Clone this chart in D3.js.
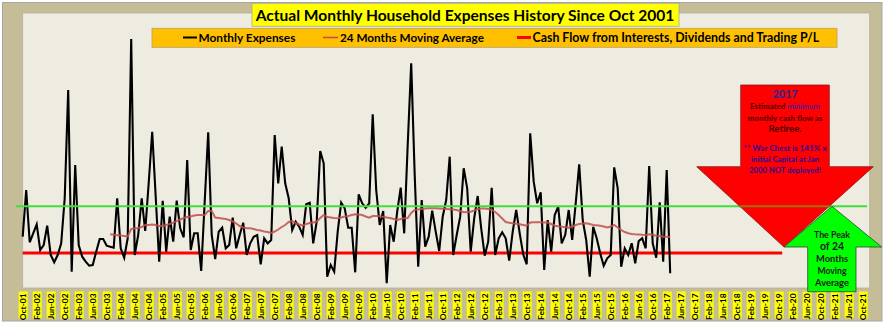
<!DOCTYPE html>
<html><head><meta charset="utf-8">
<script src="https://cdn.jsdelivr.net/npm/d3@7"></script>
<style>html,body{margin:0;padding:0;background:#fff;}svg{display:block;}</style>
</head><body><svg id="c" width="885" height="326"></svg>
<script>
// ---------- DATA ----------
const firstMonth = new Date(2001, 9, 1);   // Oct-01
const lastMonth  = new Date(2021, 11, 1);  // Dec-21 (end of category axis)
const fmt = d3.timeFormat("%b-%y");
const categories = d3.timeMonth.range(firstMonth, d3.timeMonth.offset(lastMonth, 1)).map(fmt);
const tickLabels = categories.filter((d, i) => i % 4 === 0);   // Oct-01, Feb-02, ... Oct-21

// Monthly expenses, Oct-01 .. Mar-17 (arbitrary units, no y axis shown)
const expenses = [
 1026,1960,914,1094,1274,760,860,1246,660,514,
 660,894,1794,3960,326,2460,860,626,526,446,
 460,726,980,980,846,826,806,1794,794,606,
 994,4980,660,1060,1794,1140,2100,3126,1826,526,
 1746,726,1426,926,1746,1194,1014,2560,760,1094,
 1094,340,1726,3114,1060,580,1126,1206,794,860,
 1406,794,1060,1306,660,894,1026,1060,474,994,
 894,960,3060,2094,2826,2094,1794,1160,1326,1226,
 1060,1674,1706,894,1326,2740,2494,226,460,326,
 1126,1706,1594,1206,1206,314,1874,1694,1606,1694,
 3474,1960,1260,1540,94,1260,926,1526,2006,1094,
 2860,4494,2260,426,1760,826,1026,1546,1126,740,
 1426,1760,2626,660,1060,1426,2394,1994,726,1394,
 1840,1194,646,926,2006,660,994,1114,994,546,
 1126,1560,1094,674,474,3094,2126,1694,1914,360,
 1360,726,1460,1626,894,1060,1560,960,1694,2474,
 1360,960,226,1226,994,694,446,594,660,2414,
 1994,426,794,660,894,494,940,994,794,2440,
 894,606,1714,526,2360,294];

// 24 months moving average, starting Nov-03
const maStart = "Nov-03";
const movingAverage = [
 1074,1064,1056,1048,1040,1030,1180,1190,1200,1220,
 1260,1260,1270,1260,1240,1240,1260,1280,1306,1340,
 1370,1400,1420,1430,1450,1460,1460,1460,1540,1540,
 1410,1400,1390,1380,1360,1330,1290,1240,1210,1194,
 1194,1180,1160,1150,1130,1120,1100,1130,1170,1220,
 1260,1320,1340,1300,1270,1250,1280,1300,1310,1330,
 1400,1460,1420,1410,1400,1394,1410,1430,1440,1460,
 1474,1470,1460,1430,1406,1440,1440,1434,1426,1410,
 1400,1380,1360,1380,1394,1400,1500,1560,1570,1580,
 1590,1594,1594,1594,1590,1584,1580,1574,1570,1560,
 1540,1514,1520,1526,1550,1580,1590,1590,1580,1560,
 1520,1460,1390,1320,1304,1294,1284,1274,1260,1246,
 1310,1314,1314,1314,1310,1310,1280,1246,1236,1226,
 1216,1206,1230,1260,1280,1290,1294,1280,1260,1254,
 1246,1230,1210,1230,1260,1210,1160,1120,1094,1080,
 1074,1070,1064,1060,1074,1064,1046,1040,1026,1024,1020];

// Cash flow from interests, dividends and trading P/L (flat level)
const cashFlowLevel = 700;
const cashFlowRange = ["Oct-01", "Nov-19"];
// Peak of the 24 months moving average (green reference line)
const peakMA = 1634;

const titleText = "Actual Monthly Household Expenses History Since Oct 2001";
const legendLabels = ["Monthly Expenses", "24 Months Moving Average", "Cash Flow from Interests, Dividends and Trading P/L"];
const redNoteLines = [
  [{t:"Estimated ", c:"#5a0000"}, {t:"minimum", c:"#5a1a8a"}],
  [{t:"monthly cash flow as", c:"#5a0000"}],
  [{t:"Retiree.", c:"#5a0000"}],
  [{t:"** War Chest is 141% x", c:"#3a0a8a"}],
  [{t:"initial Capital at Jan", c:"#3a0a8a"}],
  [{t:"2000  NOT deployed!", c:"#3a0a8a"}]];
const greenNoteLines = ["The Peak", "of 24", "Months", "Moving", "Average"];

// ---------- DRAW ----------
const FONT = "Lato, 'Open Sans', sans-serif";
const svg = d3.select("#c");
const plot = {l: 22.7, t: 13, r: 869.7, b: 288};
const x = d3.scalePoint().domain(categories).range([plot.l, plot.r]);
const y = d3.scaleLinear().domain([0, 5500]).range([plot.b, plot.t]);

function fit(sel, w) {
  const n = sel.node();
  const cur = n.getComputedTextLength();
  const fs = parseFloat(sel.attr("font-size"));
  if (cur > 0) sel.attr("font-size", fs * w / cur);
}

// chart area
svg.append("rect").attr("x", 2.5).attr("y", 2.5).attr("width", 879.5).attr("height", 318.5)
  .attr("fill", "#c4bd97").attr("stroke", "#a6a6a6").attr("stroke-width", 1);
// plot area
svg.append("rect").attr("x", plot.l).attr("y", plot.t).attr("width", plot.r - plot.l).attr("height", plot.b - plot.t)
  .attr("fill", "#eeece1").attr("stroke", "#b4b09a").attr("stroke-width", 0.8);

// x axis
const ax = svg.append("g").attr("transform", `translate(0,${plot.b})`)
  .call(d3.axisBottom(x).tickValues(tickLabels).tickSize(0).tickPadding(0));
ax.select(".domain").remove();
ax.selectAll(".tick").insert("rect", "text")
  .attr("x", -4.5).attr("y", 3.5).attr("width", 9).attr("height", 27).attr("fill", "#ffff00");
ax.selectAll(".tick text")
  .attr("transform", "rotate(-90)").attr("text-anchor", "end")
  .attr("x", -5.5).attr("y", 0).attr("dy", "0.36em")
  .attr("font-family", FONT).attr("font-weight", "bold").attr("font-size", 8.4).attr("fill", "#000");

// red cash flow line
const i0 = categories.indexOf(cashFlowRange[0]), i1 = categories.indexOf(cashFlowRange[1]);
svg.append("line").attr("x1", x(categories[i0])).attr("x2", x(categories[i1]))
  .attr("y1", y(cashFlowLevel)).attr("y2", y(cashFlowLevel))
  .attr("stroke", "#ff0000").attr("stroke-width", 3);

// monthly expenses
svg.append("path").datum(expenses)
  .attr("d", d3.line().x((d, i) => x(categories[i])).y(d => y(d)))
  .attr("fill", "none").attr("stroke", "#000").attr("stroke-width", 2.1).attr("stroke-linejoin", "miter");

// moving average
const mi = categories.indexOf(maStart);
svg.append("path").datum(movingAverage)
  .attr("d", d3.line().x((d, i) => x(categories[mi + i])).y(d => y(d)))
  .attr("fill", "none").attr("stroke", "#c0504d").attr("stroke-width", 2).attr("stroke-opacity", 0.85);

// green peak line
const gy = y(peakMA);
svg.append("line").attr("x1", 16).attr("x2", 867).attr("y1", gy).attr("y2", gy)
  .attr("stroke", "#3ee03e").attr("stroke-width", 2);

// red down arrow
svg.append("path")
  .attr("d", "M740.7,85 L829.3,85 L829.3,166.7 L873.3,166.7 L784,247 L696.7,166.7 L740.7,166.7 Z")
  .attr("fill", "#ff0000").attr("stroke", "#8a1a1a").attr("stroke-width", 0.8);
svg.append("line").attr("x1", 739.4).attr("x2", 829.8).attr("y1", gy).attr("y2", gy)
  .attr("stroke", "#a07010").attr("stroke-width", 2);

// green up arrow
svg.append("path")
  .attr("d", `M832,${gy} L881.7,247 L856,247 L856,291.7 L807.7,291.7 L807.7,247 L784,247 Z`)
  .attr("fill", "#00ff00").attr("stroke", "#2a4a2a").attr("stroke-width", 0.8);

// red arrow text
const yr = svg.append("text").attr("x", 785).attr("y", 98).attr("text-anchor", "middle")
  .attr("font-family", FONT).attr("font-weight", "900").attr("font-size", 13).attr("fill", "#2e2a8c").text("2017");
fit(yr, 25);
const redY = [109, 120.5, 132, 150.5, 162, 172.5];
const redW = [70, 75, 33, 83, 68, 72];
redNoteLines.forEach((ln, k) => {
  const t = svg.append("text").attr("x", 785).attr("y", redY[k]).attr("text-anchor", "middle")
    .attr("font-family", FONT).attr("font-weight", "900").attr("font-size", 8);
  ln.forEach(s => t.append("tspan").attr("fill", s.c).text(s.t));
  fit(t, redW[k]);
});

// green arrow text
const gY = [238, 250, 262, 274, 286];
const gW = [36, 24, 32, 29, 34];
greenNoteLines.forEach((s, k) => {
  const t = svg.append("text").attr("x", 832).attr("y", gY[k]).attr("text-anchor", "middle")
    .attr("font-family", FONT).attr("font-weight", "bold").attr("font-size", 10.5).attr("fill", "#1a1a1a").text(s);
  fit(t, gW[k]);
});

// title
svg.append("rect").attr("x", 252).attr("y", 3.3).attr("width", 427).attr("height", 23)
  .attr("fill", "#ffff00").attr("stroke", "#a6a6a6").attr("stroke-width", 0.8);
const tt = svg.append("text").attr("x", 465).attr("y", 21).attr("text-anchor", "middle")
  .attr("font-family", FONT).attr("font-weight", "bold").attr("font-size", 16.5).attr("fill", "#000").text(titleText);
fit(tt, 419);

// legend
svg.append("rect").attr("x", 152).attr("y", 28.3).attr("width", 685).attr("height", 19)
  .attr("fill", "#ffc000").attr("stroke", "#b8a060").attr("stroke-width", 0.8);
const legItems = [
  {x1: 183, x2: 197, tx: 198.5, w: 97, stroke: "#000", sw: 2},
  {x1: 323, x2: 338, tx: 340, w: 144, stroke: "#c0504d", sw: 1.6},
  {x1: 517, x2: 531, tx: 532.5, w: 287, stroke: "#ff0000", sw: 3}];
legItems.forEach((d, k) => {
  svg.append("line").attr("x1", d.x1).attr("x2", d.x2).attr("y1", 37.5).attr("y2", 37.5)
    .attr("stroke", d.stroke).attr("stroke-width", d.sw);
  const t = svg.append("text").attr("x", d.tx).attr("y", 41.5)
    .attr("font-family", FONT).attr("font-weight", "bold").attr("font-size", 12).attr("fill", "#000").text(legendLabels[k]);
  fit(t, d.w);
});
</script></body></html>
